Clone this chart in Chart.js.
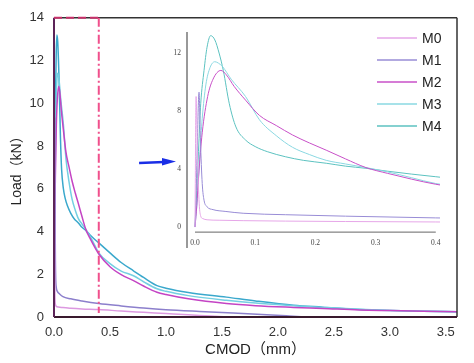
<!DOCTYPE html>
<html><head><meta charset="utf-8">
<script src="https://cdn.jsdelivr.net/npm/chart.js@4.4.1/dist/chart.umd.min.js"></script>
<style>
html,body{margin:0;padding:0;background:#fff;}
#wrap{position:relative;width:474px;height:363px;overflow:hidden;}
#main{position:absolute;left:0;top:0;}
#inset{position:absolute;left:150px;top:20px;}
</style></head><body>
<div id="wrap">
<canvas id="main" width="474" height="363"></canvas>
<canvas id="inset" width="310" height="240"></canvas>
</div>
<script>
// ---- data (CMOD in mm, Load in kN) ----
const seriesNames = ['M0','M1','M2','M3','M4'];

const m0x = [0, 0.0005, 0.001, 0.0018, 0.004, 0.007, 0.0095, 0.013, 0.02, 0.04, 0.08, 0.15, 0.25, 0.4, 0.6, 0.8, 1.0, 1.2, 1.4, 1.57];
const m0y = [0, 3.0, 6.5, 9.0, 5.0, 1.6, 0.75, 0.58, 0.5, 0.47, 0.44, 0.41, 0.38, 0.35, 0.28, 0.22, 0.16, 0.1, 0.05, 0.0];

const m1x = [0, 0.002, 0.004, 0.0067, 0.009, 0.012, 0.015, 0.02, 0.03, 0.05, 0.08, 0.15, 0.25, 0.4, 0.6, 0.8, 1.0, 1.3, 1.6, 1.9, 2.1, 2.26];
const m1y = [0, 2.5, 6.0, 9.3, 6.0, 3.0, 1.85, 1.4, 1.2, 1.08, 0.95, 0.85, 0.75, 0.63, 0.52, 0.42, 0.34, 0.26, 0.19, 0.11, 0.05, 0.0];

const m2x = [0, 0.003, 0.006, 0.012, 0.021, 0.03, 0.043, 0.052, 0.065, 0.084, 0.107, 0.135, 0.162, 0.19, 0.218, 0.25, 0.284, 0.32, 0.36, 0.4, 0.5, 0.6, 0.71, 0.8, 0.92, 1.0, 1.2, 1.54, 1.8, 2.14, 2.4, 2.73, 3.0, 3.3, 3.6];
const m2y = [0, 1.5, 3.5, 6.5, 9.0, 10.2, 10.8, 10.5, 9.7, 8.75, 7.7, 7.0, 6.35, 5.8, 5.3, 4.7, 4.1, 3.7, 3.3, 2.95, 2.35, 1.98, 1.7, 1.45, 1.16, 1.05, 0.85, 0.63, 0.53, 0.45, 0.4, 0.33, 0.3, 0.27, 0.24];

const m3x = [0, 0.004, 0.008, 0.012, 0.018, 0.025, 0.033, 0.039, 0.046, 0.06, 0.084, 0.107, 0.135, 0.162, 0.19, 0.218, 0.25, 0.284, 0.32, 0.36, 0.4, 0.5, 0.6, 0.71, 0.8, 0.92, 1.0, 1.2, 1.54, 1.8, 2.14, 2.4, 2.73, 3.0, 3.3, 3.6];
const m3y = [0, 2.0, 5.0, 7.5, 9.8, 11.0, 11.4, 11.3, 11.05, 10.2, 9.0, 7.4, 6.3, 5.5, 5.0, 4.6, 4.35, 4.1, 3.8, 3.4, 3.0, 2.5, 2.15, 1.93, 1.65, 1.32, 1.2, 1.0, 0.78, 0.65, 0.53, 0.45, 0.36, 0.31, 0.27, 0.25];

const m4x = [0, 0.003, 0.0067, 0.0095, 0.015, 0.02, 0.026, 0.033, 0.04, 0.047, 0.057, 0.068, 0.084, 0.1, 0.12, 0.15, 0.18, 0.218, 0.25, 0.284, 0.32, 0.36, 0.4, 0.5, 0.6, 0.71, 0.8, 0.92, 1.0, 1.2, 1.54, 1.8, 2.14, 2.4, 2.73, 3.0, 3.3, 3.6];
const m4y = [0, 2.5, 6.1, 8.5, 10.8, 12.4, 13.2, 12.9, 12.0, 10.8, 8.5, 6.9, 6.0, 5.55, 5.2, 4.85, 4.6, 4.4, 4.2, 4.05, 3.85, 3.65, 3.47, 3.0, 2.55, 2.16, 1.85, 1.47, 1.35, 1.15, 0.93, 0.75, 0.55, 0.46, 0.35, 0.3, 0.27, 0.24];

const mainXTicks = [0, 0.5, 1.0, 1.5, 2.0, 2.5, 3.0, 3.5];
const mainYTicks = [0, 2, 4, 6, 8, 10, 12, 14];
const insetXTicks = [0, 0.1, 0.2, 0.3, 0.4];
const insetYTicks = [0, 4, 8, 12];

const zoomBox = [0, 0.4, 0, 14];      // CMOD from..to, Load from..to
const arrowAt = [0.76, 1.09, 7.25];   // arrow in main-chart data units

// ---- styles ----
const FONT = 'Arial, "Liberation Sans", "Noto Sans CJK SC", sans-serif';
const SERIF = '"Times New Roman", "Liberation Serif", serif';
const mainColors  = ['#dc98e0', '#8c7fcc', '#c444c4', '#74cfe2', '#3aa8cc'];
const insetColors = ['#e6a6e8', '#988cd6', '#c850c8', '#8ad8e2', '#5cc2c0'];

const xs = [m0x, m1x, m2x, m3x, m4x];
const ys = [m0y, m1y, m2y, m3y, m4y];

function makeSets(width, colors) {
  return seriesNames.map((n, k) => ({
    label: n,
    data: xs[k].map((v, i) => ({x: v, y: ys[k][i]})),
    borderColor: colors[k],
    backgroundColor: colors[k],
    borderWidth: width,
    pointRadius: 0,
    fill: false,
    cubicInterpolationMode: 'monotone'
  }));
}

function seg(ctx, x0, y0, x1, y1) { ctx.beginPath(); ctx.moveTo(x0, y0); ctx.lineTo(x1, y1); ctx.stroke(); }

const mainDecor = {
  id: 'mainDecor',
  afterDraw(chart) {
    const {ctx, chartArea: a, scales: {x, y}} = chart;
    ctx.save();
    ctx.lineCap = 'butt';
    // frame top & right
    ctx.strokeStyle = '#333'; ctx.lineWidth = 1.5;
    seg(ctx, a.left, a.top, a.right, a.top);
    seg(ctx, a.right, a.top, a.right, a.bottom);
    // bottom axis
    ctx.strokeStyle = '#3a1a2e'; ctx.lineWidth = 2;
    seg(ctx, a.left, a.bottom, a.right, a.bottom);
    // zoom box
    const bx0 = x.getPixelForValue(zoomBox[0]), bx1 = x.getPixelForValue(zoomBox[1]);
    const by0 = y.getPixelForValue(zoomBox[2]), by1 = y.getPixelForValue(zoomBox[3]);
    ctx.strokeStyle = '#5c2458'; ctx.lineWidth = 2;
    seg(ctx, bx0, by0, bx0, by1);
    ctx.strokeStyle = '#c8306a'; ctx.lineWidth = 2; ctx.setLineDash([8, 4]);
    seg(ctx, bx0, by1, bx1, by1);
    ctx.strokeStyle = '#f0508c'; ctx.lineWidth = 2; ctx.setLineDash([9, 3, 2, 3]);
    seg(ctx, bx1, by1, bx1, by0 - 4);
    ctx.setLineDash([]);
    // arrow
    const ax0 = x.getPixelForValue(arrowAt[0]), ax1 = x.getPixelForValue(arrowAt[1]);
    const ay = y.getPixelForValue(arrowAt[2]);
    ctx.strokeStyle = '#1a2ee6'; ctx.fillStyle = '#1a2ee6'; ctx.lineWidth = 2.5;
    seg(ctx, ax0, ay + 1, ax1 - 12, ay);
    ctx.beginPath(); ctx.moveTo(ax1, ay - 0.5); ctx.lineTo(ax1 - 14, ay - 4); ctx.lineTo(ax1 - 14, ay + 3.5); ctx.closePath(); ctx.fill();
    ctx.restore();
  }
};

new Chart(document.getElementById('main'), {
  type: 'line',
  data: {datasets: makeSets(1.5, mainColors)},
  options: {
    responsive: false, animation: false,
    layout: {padding: {top: 12, right: 17, left: 0, bottom: 0}},
    plugins: {legend: {display: false}, tooltip: {enabled: false}},
    scales: {
      x: {
        type: 'linear', min: 0, max: 3.6,
        grid: {display: false, drawTicks: false}, border: {display: false},
        afterBuildTicks: s => { s.ticks = mainXTicks.map(v => ({value: v})); },
        afterFit: s => { s.height = 46; },
        ticks: {font: {family: FONT, size: 13}, color: '#333', padding: 8, maxRotation: 0, autoSkip: false,
                callback: v => Number(v).toFixed(1)},
        title: {display: true, text: 'CMOD（mm）', font: {family: FONT, size: 15}, color: '#222', padding: {top: 0, bottom: 4}}
      },
      y: {
        type: 'linear', min: 0, max: 14,
        grid: {display: false, drawTicks: false}, border: {display: false},
        afterBuildTicks: s => { s.ticks = mainYTicks.map(v => ({value: v})); },
        afterFit: s => { s.width = 54; },
        ticks: {font: {family: FONT, size: 13}, color: '#333', padding: 10, autoSkip: false},
        title: {display: true, text: 'Load（kN）', font: {family: FONT, size: 14}, color: '#222', padding: {top: 9, bottom: 0}}
      }
    }
  },
  plugins: [mainDecor]
});

const insetDecor = {
  id: 'insetDecor',
  afterDraw(chart) {
    const {ctx, chartArea: a, scales: {x, y}} = chart;
    ctx.save();
    // y axis line
    ctx.strokeStyle = '#555'; ctx.lineWidth = 1.2;
    seg(ctx, a.left, a.top, a.left, y.getPixelForValue(-1.45));
    // x axis line
    ctx.strokeStyle = '#666'; ctx.lineWidth = 1;
    const yb = y.getPixelForValue(-0.35);
    seg(ctx, x.getPixelForValue(0), yb, x.getPixelForValue(0.4), yb);
    // legend
    ctx.font = '14px ' + FONT; ctx.textBaseline = 'middle'; ctx.textAlign = 'left';
    chart.data.datasets.forEach((d, i) => {
      const ly = 18 + i * 22;
      ctx.strokeStyle = d.borderColor; ctx.lineWidth = 1.5;
      seg(ctx, 227, ly, 267, ly);
      ctx.fillStyle = '#222';
      ctx.fillText(d.label, 272, ly + 1);
    });
    ctx.restore();
  }
};

new Chart(document.getElementById('inset'), {
  type: 'line',
  data: {datasets: makeSets(1, insetColors)},
  options: {
    responsive: false, animation: false,
    layout: {padding: {top: 12, right: 20, left: 0, bottom: 0}},
    plugins: {legend: {display: false}, tooltip: {enabled: false}},
    scales: {
      x: {
        type: 'linear', min: -0.0133, max: 0.407,
        grid: {display: false, drawTicks: false}, border: {display: false},
        afterBuildTicks: s => { s.ticks = insetXTicks.map(v => ({value: v})); },
        afterFit: s => { s.height = 26; },
        ticks: {font: {family: SERIF, size: 7.5}, color: '#444', padding: 5, maxRotation: 0, autoSkip: false,
                callback: v => Number(v).toFixed(1)}
      },
      y: {
        type: 'linear', min: -0.48, max: 13.45,
        grid: {display: false, drawTicks: false}, border: {display: false},
        afterBuildTicks: s => { s.ticks = insetYTicks.map(v => ({value: v})); },
        afterFit: s => { s.width = 37; },
        ticks: {font: {family: SERIF, size: 7.5}, color: '#444', padding: 6, autoSkip: false}
      }
    }
  },
  plugins: [insetDecor]
});
</script>
</body></html>
